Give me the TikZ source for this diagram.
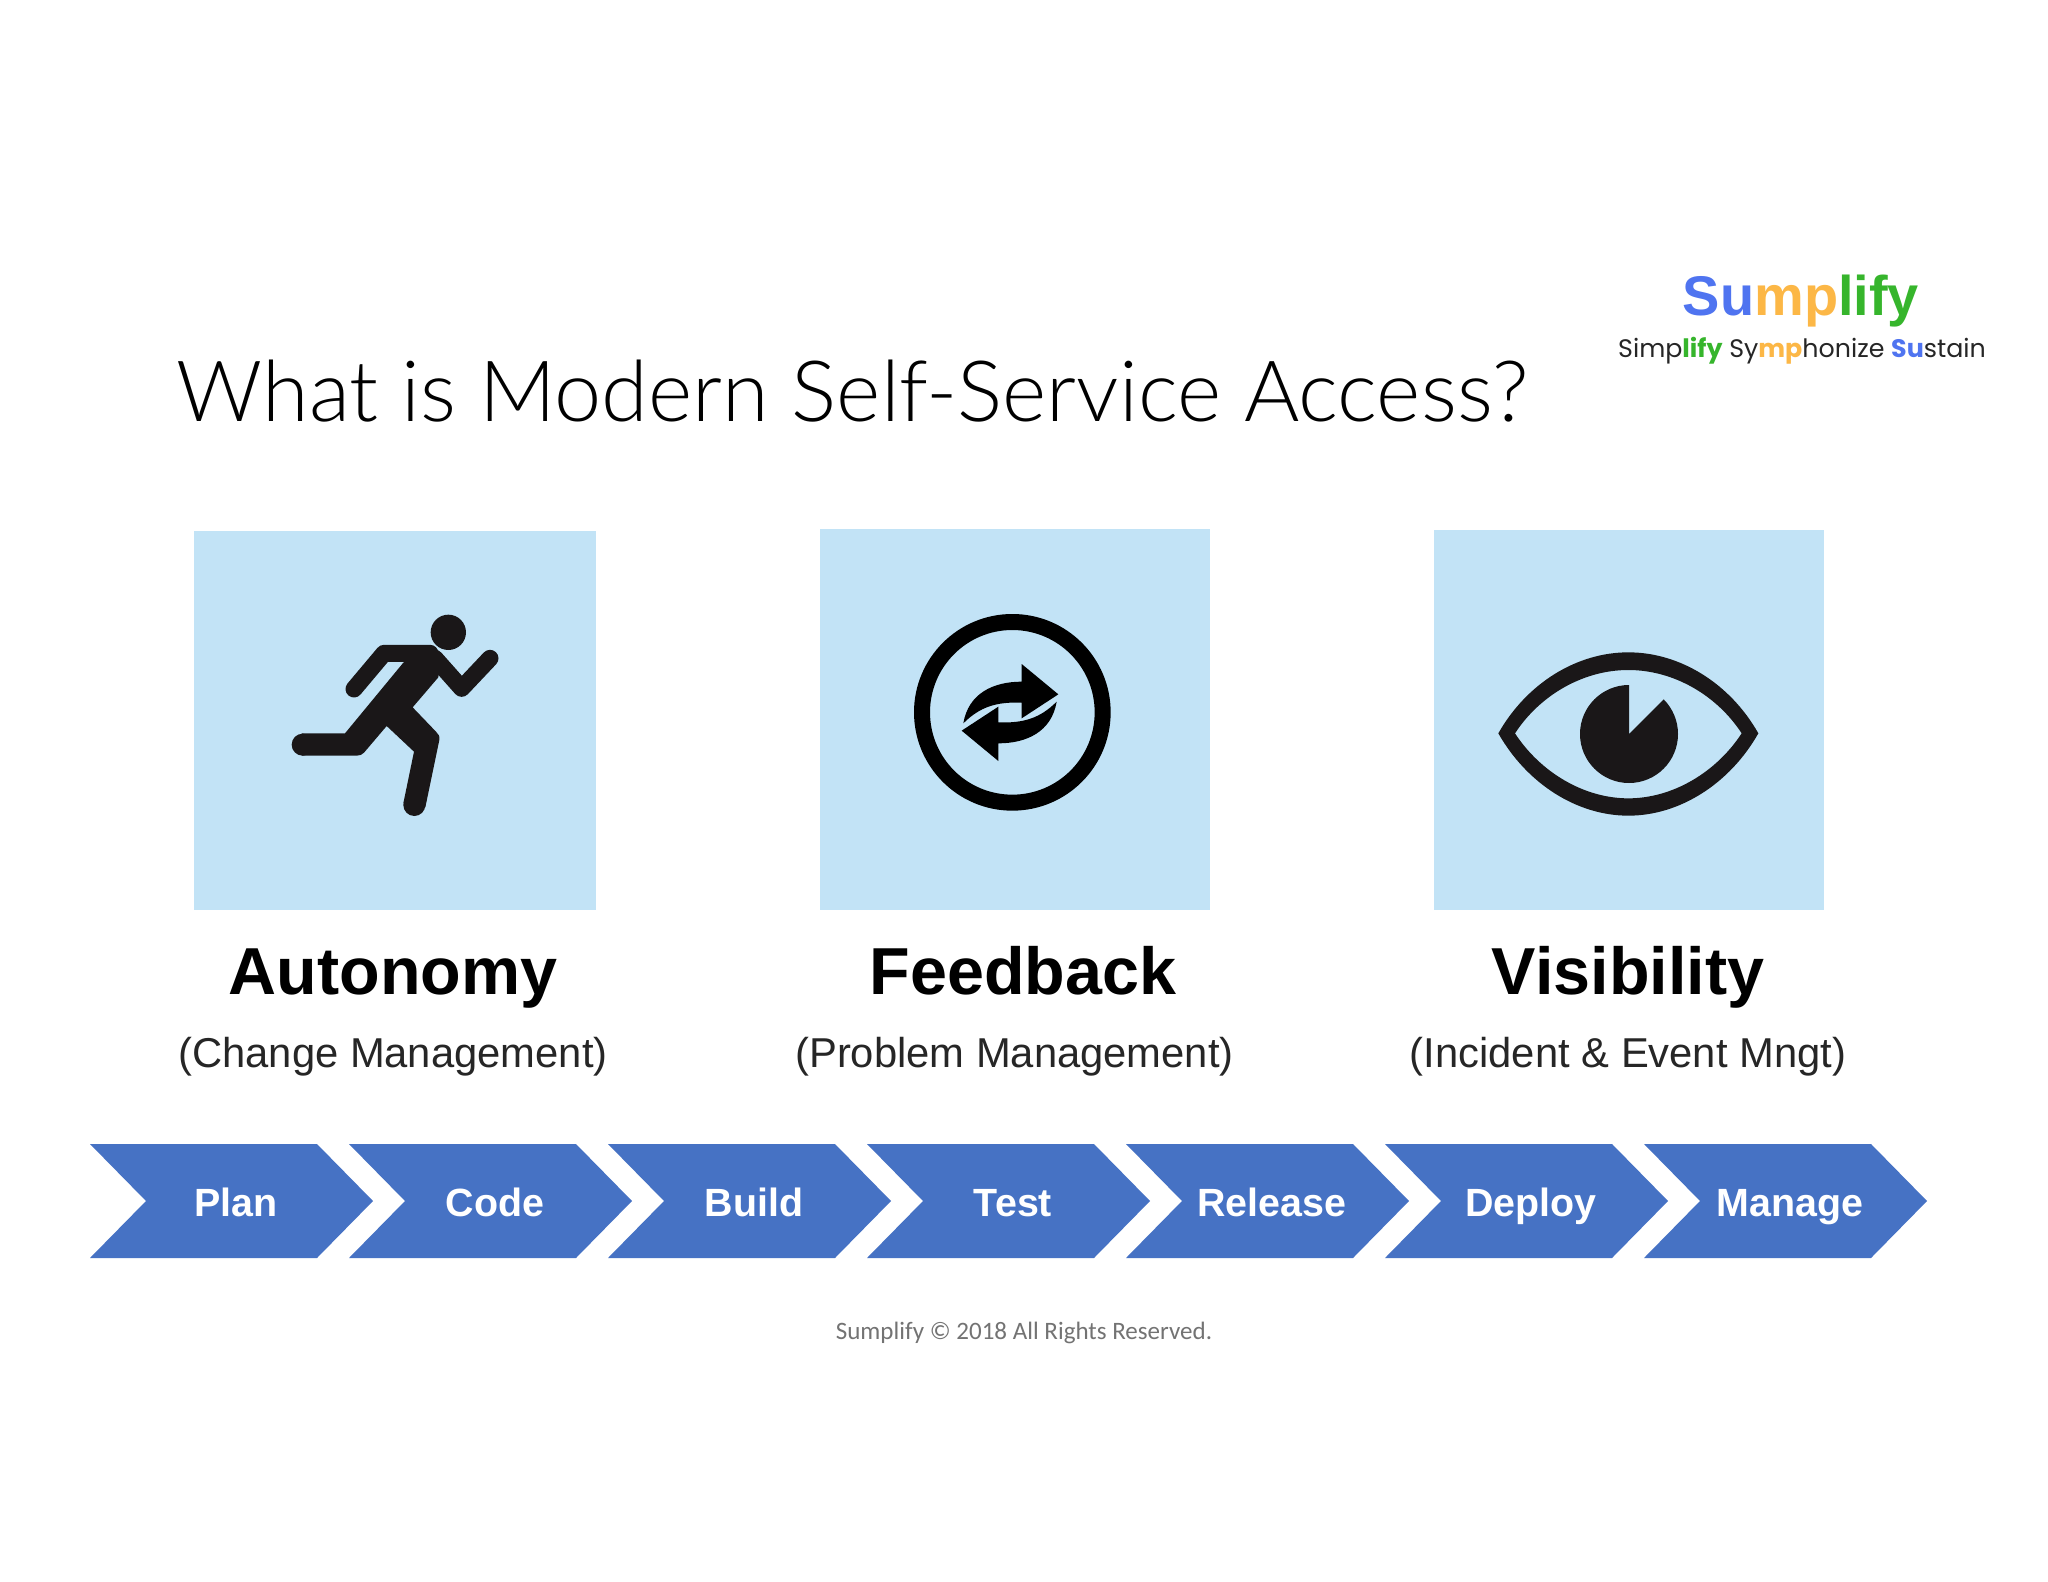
\documentclass[tikz,border=0pt]{standalone}
\usepackage{fontspec}
\setmainfont{Liberation Sans}
\newfontfamily\slidefont{Carlito}
\newfontfamily\titlefont{Lato Light}
\newfontfamily\logofont{Poppins}
\definecolor{boxblue}{HTML}{C2E3F6}
\definecolor{stepblue}{HTML}{4672C4}
\definecolor{iconblack}{HTML}{1A1718}
\definecolor{logoblue}{HTML}{4F74F0}
\definecolor{logoorange}{HTML}{FCB746}
\definecolor{logogreen}{HTML}{36B52C}
\begin{document}
\begin{tikzpicture}[x=0.01cm, y=-0.01cm, line join=round, line cap=round,
		bigname/.style={anchor=base, font=\bfseries\fontsize{18.9}{20}\selectfont},
		subname/.style={anchor=base, font=\fontsize{11.87}{14}\selectfont, text=black!85},
		steptext/.style={anchor=base, text=white, font=\bfseries\fontsize{11.2}{13}\selectfont},
		icon/.style={x=0.01cm/3, y=-0.01cm/3}]
			\useasboundingbox (0,0) rectangle (2048,1582);
			\fill[white] (0,0) rectangle (2048,1582);
			\def\stepw{259}
			% title and logo
			\node[anchor=base west, inner sep=0pt, font=\titlefont\fontsize{24.05}{30}\selectfont, text=black] (title) at (176,421) {What is Modern Self-Service Access?};
			\node[anchor=base, inner sep=0pt, font=\bfseries\fontsize{15.9}{18}\selectfont] (logo) at (1801,315) {\textcolor{logoblue}{Su}\textcolor{logoorange}{mp}\textcolor{logogreen}{lify}};
			\node[anchor=base, inner sep=0pt, font=\logofont\fontsize{7.2}{9}\selectfont, text=black!85] (tagline) at (1802,357) {Simp\textcolor{logogreen}{\bfseries lify} Sy\textcolor{logoorange}{\bfseries mp}honize \textcolor{logoblue}{\bfseries Su}stain};
			% boxes
			\fill[boxblue] (193.5,531) rectangle (596,910);
			\fill[boxblue] (820,529) rectangle (1210,910);
			\fill[boxblue] (1434,530) rectangle (1824,910);
			% runner
			\begin{scope}[shift={(260,590)}, icon]
				\fill[iconblack] (565,127) circle (53);
				\fill[iconblack] (430,218)--(255,430)--(125,430)--(125,497)--(290,497)..controls (300,497) and (306,494) .. (312,488)--(380,408)--(462,485)--(430,640)--(496,652)--(538,450)..controls (540,438) and (535,432) .. (528,425)--(458,352)--(535,262)--(545,190)--(510,165)--cycle;
				\fill[iconblack] (128,464) circle (33) (463,645) circle (33);
				\draw[iconblack, line width=0.17cm] (282,297)--(372,190)--(510,190) (690,205)--(605,295)--(525,205);
			\end{scope}
			% feedback
			\begin{scope}[shift={(890,590)}, icon]
				\draw[black, line width=0.16cm] (367,367) circle (271);
				\foreach \a in {0,180}
					\fill[black, rotate around={\a:(360,367.5)}] (220,400)..controls (235,310) and (310,275) .. (395,275)--(395,222)--(505,313)--(395,385)--(395,338)..controls (320,335) and (270,350) .. (220,400)--cycle;
			\end{scope}
			% eye
			\begin{scope}[shift={(1470,620)}, icon]
				\fill[iconblack, even odd rule] (85,340)..controls (170,190) and (320,97) .. (475,97)..controls (630,97) and (780,190) .. (865,340)..controls (780,490) and (630,587) .. (475,587)..controls (320,587) and (170,490) .. cycle
					(135,340)..controls (210,225) and (340,150) .. (475,150)..controls (610,150) and (740,225) .. (815,340)..controls (740,455) and (610,535) .. (475,535)..controls (340,535) and (210,455) .. cycle;
				\fill[iconblack] (477,342)--(477,195) arc[start angle=-90, end angle=-405, radius=147]--cycle;
			\end{scope}
			% names
			\node[bigname] (autonomy) at (393,994) {Autonomy};
			\node[bigname] (feedback) at (1023,994) {Feedback};
			\node[bigname] (visibility) at (1628,994) {Visibility};
			\node[subname] (change) at (393,1067) {(Change Management)};
			\node[subname] (problem) at (1014.5,1067) {(Problem Management)};
			\node[subname] (incident) at (1628,1067) {(Incident \& Event Mngt)};
			% pipeline
			\foreach \name [count=\i from 0] in {Plan,Code,Build,Test,Release,Deploy,Manage} {
				\fill[stepblue, xshift=\i*\stepw*0.01cm] (90,1144)--(317,1144)--(373,1201)--(317,1258)--(90,1258)--(146,1201)--cycle;
				\node[steptext] (step\i) at (236+\i*\stepw,1216) {\name};
			}
			\node[anchor=base, inner sep=0pt, font=\slidefont\fontsize{7.12}{9}\selectfont, text=black!55] (footer) at (1024,1339) {Sumplify © 2018 All Rights Reserved.};
		\end{tikzpicture}
\end{document}
